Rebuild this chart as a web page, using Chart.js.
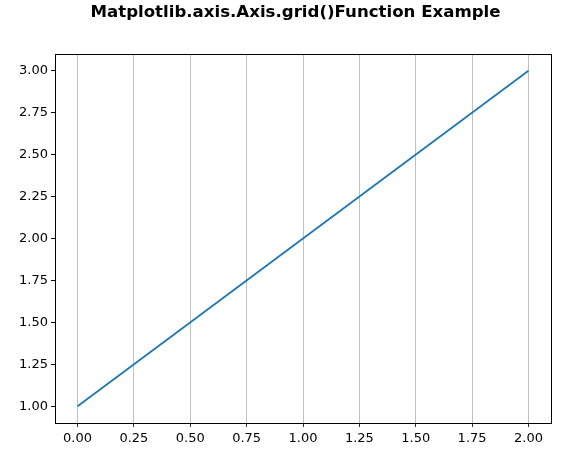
<!DOCTYPE html>
<html>
<head>
<meta charset="utf-8">
<script src="https://cdn.jsdelivr.net/npm/chart.js@4/dist/chart.umd.min.js"></script>
<style>
    html, body { margin: 0; padding: 0; background: #fff; }
    #wrap { width: 574px; height: 469px; }
</style>
</head>
<body>
<div id="wrap"><canvas id="chart" width="574" height="469"></canvas></div>
<script>
const xValues = [0, 1, 2];
const yValues = [1, 2, 3];
const xTicks = [0, 0.25, 0.5, 0.75, 1, 1.25, 1.5, 1.75, 2];
const yTicks = [1, 1.25, 1.5, 1.75, 2, 2.25, 2.5, 2.75, 3];
const titleText = 'Matplotlib.axis.Axis.grid()Function Example';

// black frame round the plot area plus the figure title, like matplotlib
const frame = {
    id: 'frame',
    afterDraw(chart) {
        const a = chart.chartArea;
        const ctx = chart.ctx;
        ctx.save();
        ctx.strokeStyle = '#000';
        ctx.lineWidth = 1;
        ctx.strokeRect(Math.round(a.left) + 0.5, Math.round(a.top) + 0.5,
            Math.round(a.right - a.left), Math.round(a.bottom - a.top));

        ctx.fillStyle = '#000';
        ctx.font = 'bold 16.6px "DejaVu Sans"';
        ctx.textAlign = 'center';
        ctx.textBaseline = 'middle';
        ctx.fillText(titleText, 295.5, 13);
        ctx.restore();
    }
};

const tickFont = { family: 'DejaVu Sans', size: 13 };

new Chart(document.getElementById('chart'), {
    type: 'line',
    data: {
        datasets: [{
            data: xValues.map((x, i) => ({ x: x, y: yValues[i] })),
            borderColor: '#1f77b4',
            borderWidth: 1.8,
            pointRadius: 0,
            fill: false,
            tension: 0
        }]
    },
    options: {
        responsive: false,
        animation: false,
        layout: { padding: { left: 0, right: 23, top: 54, bottom: 0 } },
        plugins: {
            legend: { display: false },
            tooltip: { enabled: false },
            title: { display: false }
        },
        scales: {
            x: {
                type: 'linear',
                min: -0.1,
                max: 2.1,
                afterBuildTicks: s => { s.ticks = xTicks.map(v => ({ value: v })); },
                afterFit: s => { s.height = 46; },
                grid: { color: '#b0b0b0', lineWidth: 0.8, tickColor: '#000', tickLength: 4, drawOnChartArea: true },
                border: { display: true, color: '#000', width: 1 },
                ticks: {
                    color: '#000',
                    font: tickFont,
                    padding: 4,
                    maxRotation: 0,
                    autoSkip: false,
                    callback: v => v.toFixed(2)
                }
            },
            y: {
                type: 'linear',
                min: 0.9,
                max: 3.1,
                afterBuildTicks: s => { s.ticks = yTicks.map(v => ({ value: v })); },
                afterFit: s => { s.width = 55; },
                grid: { drawOnChartArea: false, tickColor: '#000', tickLength: 4 },
                border: { display: true, color: '#000', width: 1 },
                ticks: {
                    color: '#000',
                    font: tickFont,
                    padding: 3,
                    autoSkip: false,
                    callback: v => v.toFixed(2)
                }
            }
        }
    },
    plugins: [frame]
});
</script>
</body>
</html>
